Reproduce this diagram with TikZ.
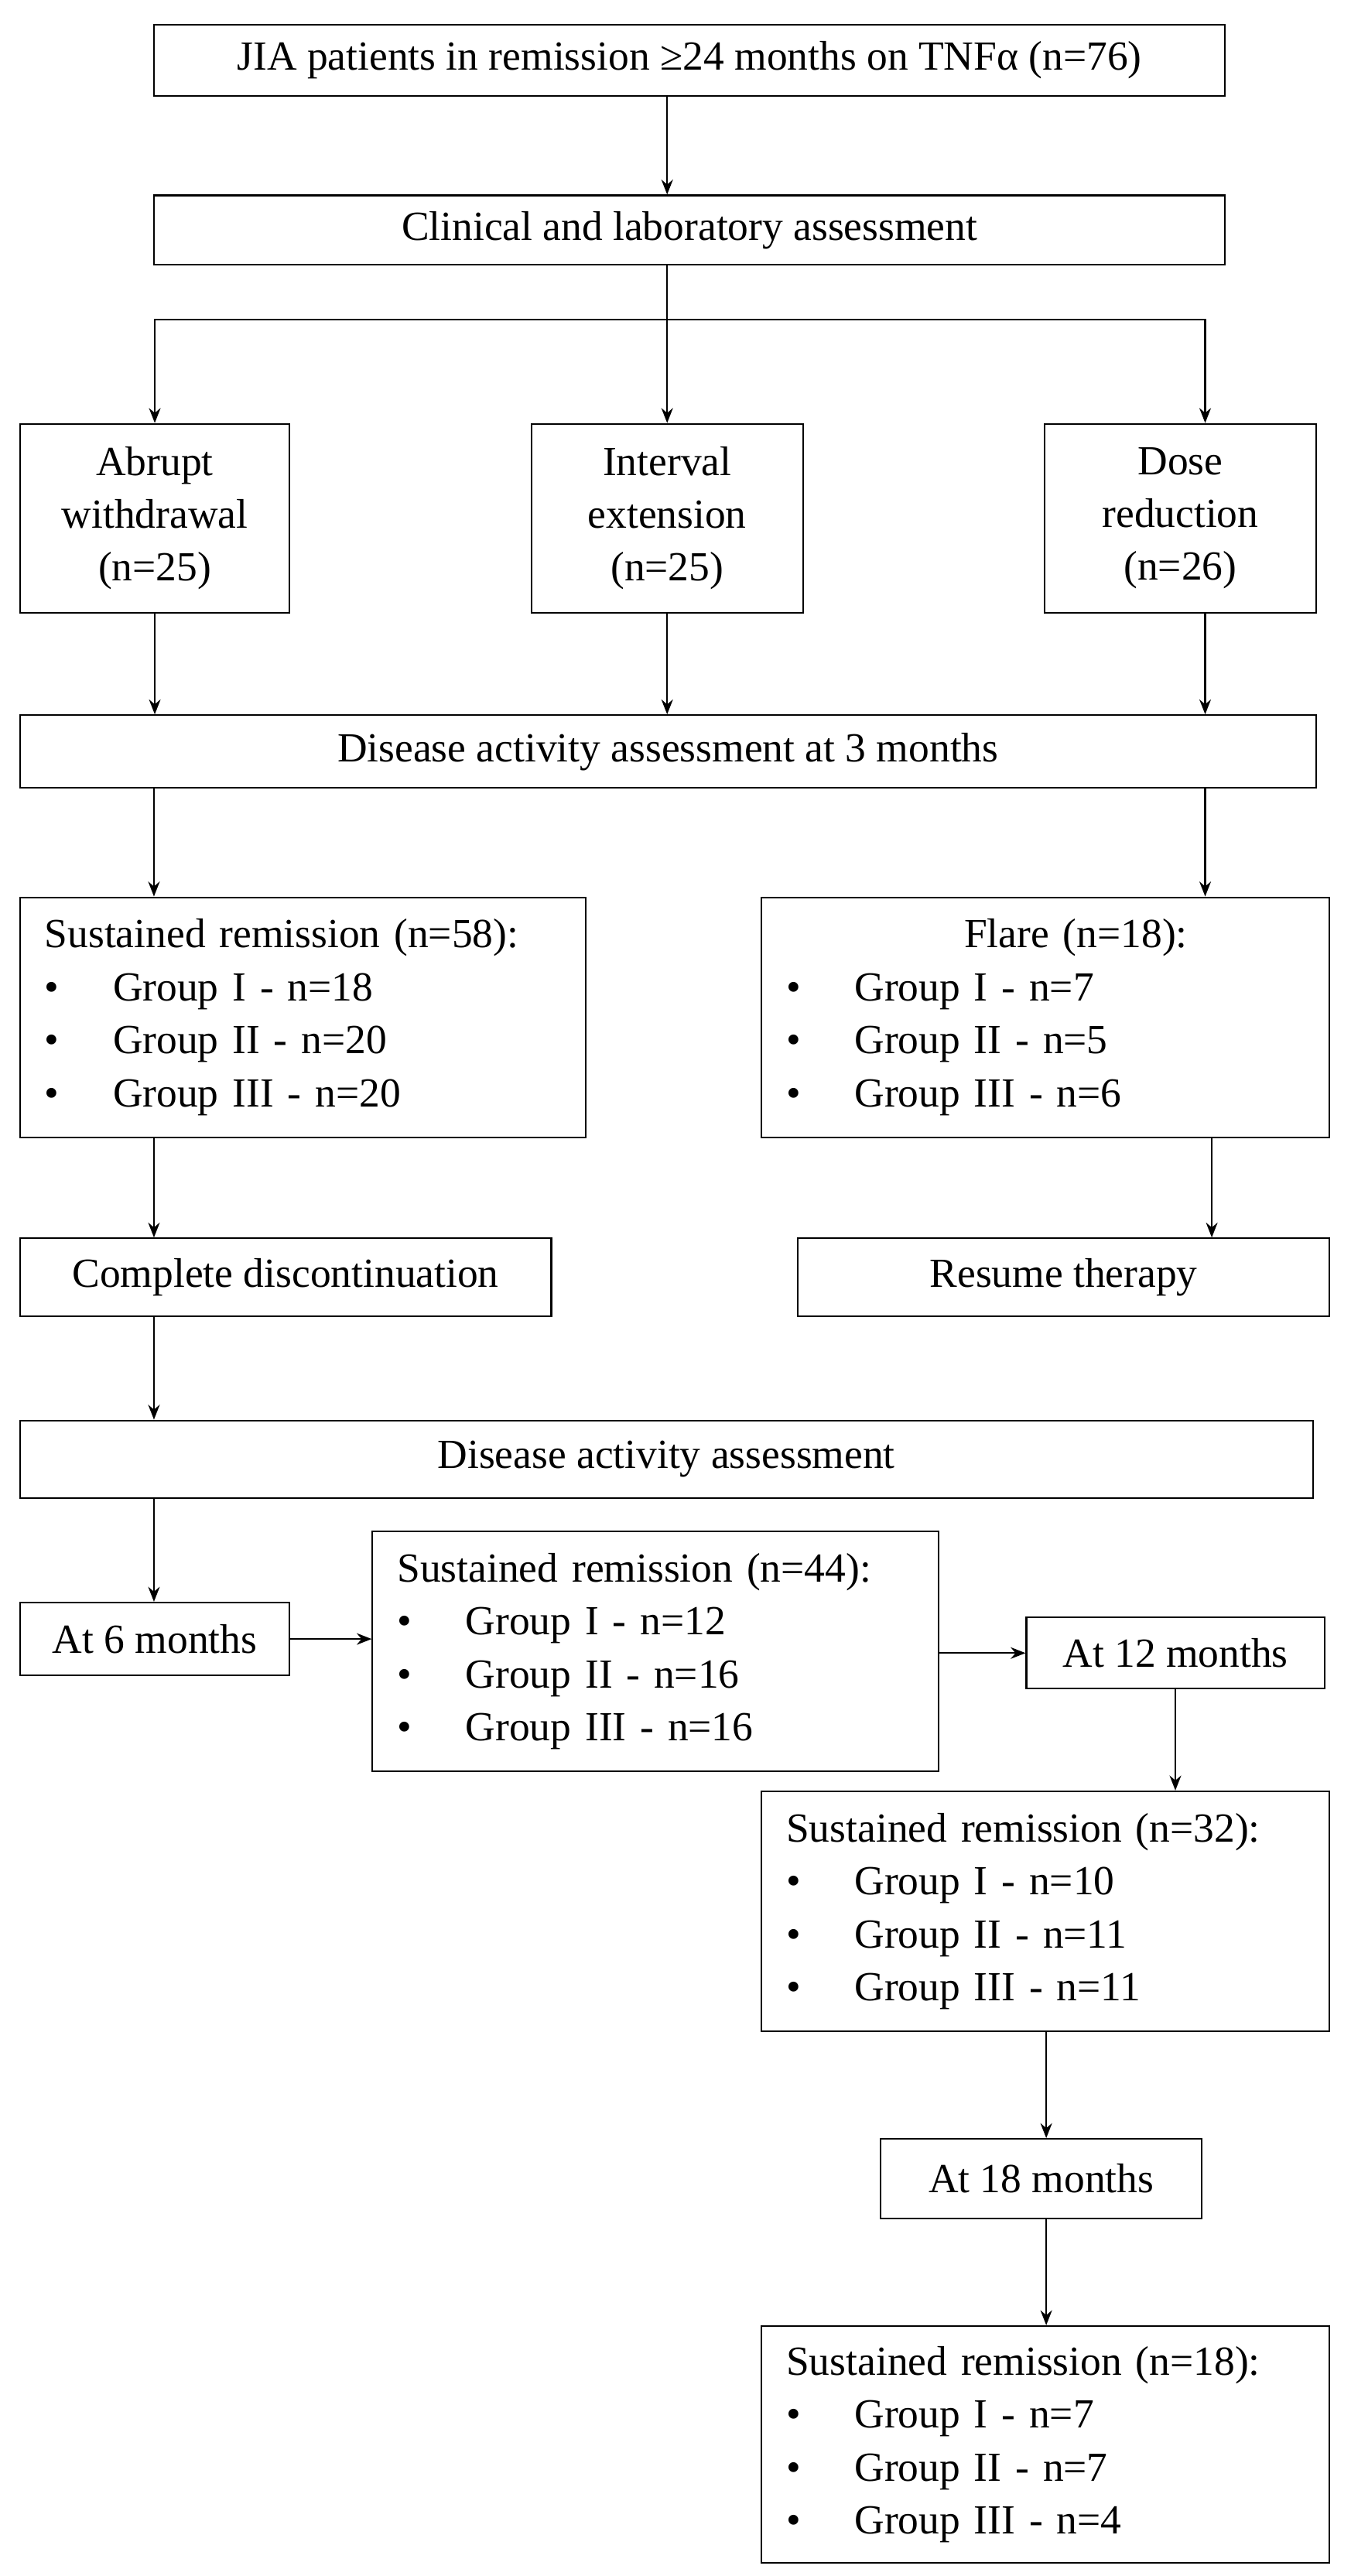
\documentclass[tikz,border=0pt]{standalone}
\usepackage{fontspec}
\setmainfont{Liberation Serif}
\usetikzlibrary{arrows.meta}

\begin{document}
\begin{tikzpicture}[x=1pt,y=-1pt,
		box/.style = {
			rectangle,draw=black,line width=1pt,inner sep=0pt,
			font=\fontsize{25}{32}\selectfont,align=center
		},
		list/.style = {
			box,align=left,inner xsep=15pt
		},
		arr/.style = {-{Stealth[length=9pt,width=7pt]},line width=1pt}]
		\useasboundingbox (0,0) rectangle (816,1556);
		% top of the chart
		\node[box,minimum width=647,minimum height=43] (start) at (416.5,36.5)
			{JIA patients in remission ≥24 months on TNFα (n=76)};
		\node[box,minimum width=647,minimum height=42] (clinic) at (416.5,139)
			{Clinical and laboratory assessment};
		\node[box,minimum width=163,minimum height=114] (abrupt) at (93.5,313)
			{Abrupt\\withdrawal\\(n=25)};
		\node[box,minimum width=164,minimum height=114] (interval) at (403,313)
			{Interval\\extension\\(n=25)};
		\node[box,minimum width=164,minimum height=114] (dose) at (713,313)
			{Dose\\reduction\\(n=26)};
		\node[box,minimum width=783,minimum height=44] (three) at (403.5,454)
			{Disease activity assessment at 3 months};
		\coordinate (split) at (403,193);
		% 3 months
		\node[list,text width=312,minimum height=145] (remA) at (183,614.5)
			{Sustained remission (n=58):\\
			 \textbullet\hspace{1.3em}Group I - n=18\\
			 \textbullet\hspace{1.3em}Group II - n=20\\
			 \textbullet\hspace{1.3em}Group III - n=20};
		\node[list,text width=313,minimum height=145] (flare) at (631.5,614.5)
			{\hspace*{4.3em}Flare (n=18):\\
			 \textbullet\hspace{1.3em}Group I - n=7\\
			 \textbullet\hspace{1.3em}Group II - n=5\\
			 \textbullet\hspace{1.3em}Group III - n=6};
		\node[box,minimum width=321,minimum height=47] (stop) at (172.5,771.5)
			{Complete discontinuation};
		\node[box,minimum width=321,minimum height=47] (resume) at (642.5,771.5)
			{Resume therapy};
		\node[box,minimum width=781,minimum height=47] (activity) at (402.5,881.5)
			{Disease activity assessment};
		% follow up
		\node[box,minimum width=163,minimum height=44] (six) at (93.5,990)
			{At 6 months};
		\node[list,text width=312,minimum height=145] (remB) at (396,997.5)
			{Sustained remission (n=44):\\
			 \textbullet\hspace{1.3em}Group I - n=12\\
			 \textbullet\hspace{1.3em}Group II - n=16\\
			 \textbullet\hspace{1.3em}Group III - n=16};
		\node[box,minimum width=180,minimum height=43] (twelve) at (710,998.5)
			{At 12 months};
		\node[list,text width=313,minimum height=145] (remC) at (631.5,1154.5)
			{Sustained remission (n=32):\\
			 \textbullet\hspace{1.3em}Group I - n=10\\
			 \textbullet\hspace{1.3em}Group II - n=11\\
			 \textbullet\hspace{1.3em}Group III - n=11};
		\node[box,minimum width=194,minimum height=48] (eighteen) at (629,1316)
			{At 18 months};
		\node[list,text width=313,minimum height=143] (remD) at (631.5,1476.5)
			{Sustained remission (n=18):\\
			 \textbullet\hspace{1.3em}Group I - n=7\\
			 \textbullet\hspace{1.3em}Group II - n=7\\
			 \textbullet\hspace{1.3em}Group III - n=4};
		% connectors
		\draw[arr] (start.south -| split) -- (clinic.north -| split);
		\draw[line width=1pt] (clinic.south -| split) -- (split);
		\draw[arr] (split) -- (interval);
		\draw[arr] (split) -| (abrupt.north);
		\draw[arr] (split) -| (dose.north -| 728,0);
		\draw[arr] (abrupt) -- (three.north -| abrupt);
		\draw[arr] (interval) -- (three.north -| interval);
		\draw[arr] (dose.south -| 728,0) -- (three.north -| 728,0);
		\draw[arr] (three.south -| 93,0) -- (remA.north -| 93,0);
		\draw[arr] (three.south -| 728,0) -- (flare.north -| 728,0);
		\draw[arr] (remA.south -| 93,0) -- (stop.north -| 93,0);
		\draw[arr] (flare.south -| 732,0) -- (resume.north -| 732,0);
		\draw[arr] (stop.south -| 93,0) -- (activity.north -| 93,0);
		\draw[arr] (activity.south -| 93,0) -- (six.north -| 93,0);
		\draw[arr] (six) -- (six.east -| remB.west);
		\draw[arr] (remB.east |- twelve) -- (twelve);
		\draw[arr] (twelve) -- (remC.north -| twelve);
		\draw[arr] (remC.south -| 632,0) -- (eighteen.north -| 632,0);
		\draw[arr] (eighteen.south -| 632,0) -- (remD.north -| 632,0);
	\end{tikzpicture}
\end{document}
